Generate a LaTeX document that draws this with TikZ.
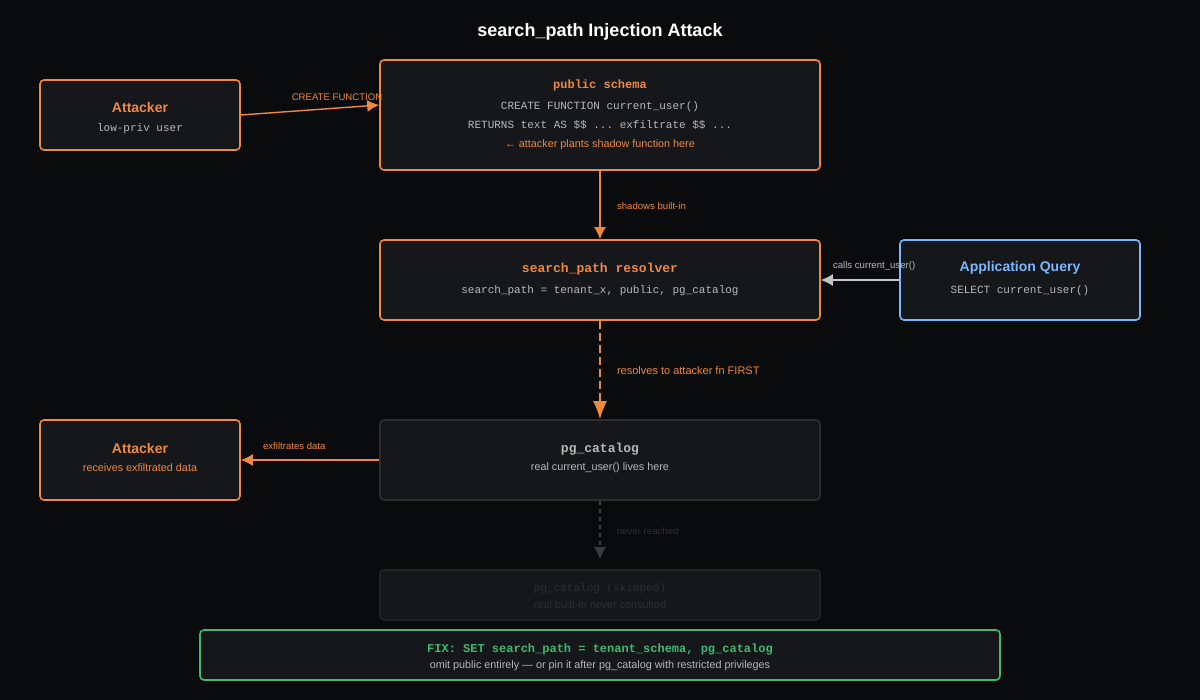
\documentclass[tikz,border=0pt]{standalone}
\usepackage{fontspec}
\setmainfont{Liberation Sans}
\setmonofont{Liberation Mono}
\usetikzlibrary{arrows.meta,calc}
\definecolor{bg}{HTML}{0A0B0D}
\definecolor{boxfill}{HTML}{15171B}
\definecolor{orng}{HTML}{F0883E}
\definecolor{blu}{HTML}{79B8FF}
\definecolor{grn}{HTML}{3FB970}
\definecolor{txt}{HTML}{B8B8B8}
\definecolor{dim}{HTML}{2A2D32}
\definecolor{dimline}{HTML}{3A3E44}
\definecolor{dimtxt}{HTML}{2C2F34}
\tikzset{
  box/.style={draw, fill=boxfill, rounded corners=2, line width=0.8pt, inner sep=0pt},
  ttl/.style={font=\fontsize{7}{8}\selectfont\bfseries},
  mono/.style={font=\ttfamily\fontsize{5.5}{6.5}\selectfont, text=txt},
  small/.style={font=\fontsize{5.4}{6.4}\selectfont},
  lbl/.style={font=\fontsize{4.8}{5.5}\selectfont, anchor=west},
  arr/.style={-{Latex[length=6pt,width=6pt]}, line width=0.7pt}
}
\begin{document}
\begin{tikzpicture}[x=0.5pt,y=-0.5pt]
\fill[bg] (0,0) rectangle (1200,700);
\node[font=\fontsize{9}{11}\selectfont\bfseries, text=white] (title) at (600,32) {search\_path Injection Attack};
% boxes
\node[box, draw=orng, minimum width=100pt, minimum height=35pt] (att) at (140,115) {};
\node[box, draw=orng, minimum width=220pt, minimum height=55pt] (pub) at (600,115) {};
\node[box, draw=orng, minimum width=220pt, minimum height=40pt] (res) at (600,280) {};
\node[box, draw=blu, minimum width=120pt, minimum height=40pt] (app) at (1020,280) {};
\node[box, draw=dim, minimum width=220pt, minimum height=40pt] (pg) at (600,460) {};
\node[box, draw=dim!70!bg, minimum width=220pt, minimum height=25pt] (skip) at (600,595) {};
\node[box, draw=orng, minimum width=100pt, minimum height=40pt] (recv) at (140,460) {};
\node[box, draw=grn, minimum width=400pt, minimum height=25pt] (fix) at (600,655) {};
% texts
\node[ttl, text=orng] at (140,107) {Attacker};
\node[mono] at (140,129) {low-priv user};
\node[ttl, font=\ttfamily\fontsize{6}{7}\selectfont\bfseries, text=orng] at (600,85) {public schema};
\node[mono] at (600,107) {CREATE FUNCTION current\_user()};
\node[mono] at (600,125) {RETURNS text AS \$\$ ... exfiltrate \$\$ ...};
\node[small, text=orng] at (600,145) {← attacker plants shadow function here};
\node[ttl, font=\ttfamily\fontsize{6.5}{7.5}\selectfont\bfseries, text=orng] at (600,269) {search\_path resolver};
\node[mono] at (600,291) {search\_path = tenant\_x, public, pg\_catalog};
\node[ttl, text=blu] at (1020,268) {Application Query};
\node[mono] at (1020,291) {SELECT current\_user()};
\node[ttl, font=\ttfamily\fontsize{6.5}{7.5}\selectfont\bfseries, text=txt] at (600,449) {pg\_catalog};
\node[small, text=txt] at (600,468) {real current\_user() lives here};
\node[ttl, text=orng] at (140,448) {Attacker};
\node[small, text=orng] at (140,468) {receives exfiltrated data};
\node[mono, text=dimtxt] at (600,589) {pg\_catalog (skipped)};
\node[small, text=dimtxt] at (600,605) {real built-in never consulted};
\node[ttl, font=\ttfamily\fontsize{6}{7}\selectfont\bfseries, text=grn] at (600,649) {FIX: SET search\_path = tenant\_schema, pg\_catalog};
\node[small, text=txt] at (600,666) {omit public entirely — or pin it after pg\_catalog with restricted privileges};
% connectors
\draw[arr, orng] (att.east) -- ($(pub.west)+(0,-10)$);
\node[lbl, anchor=center, text=orng] at (337,97) {CREATE FUNCTION};
\draw[arr, orng] (pub.south) -- (res.north);
\node[lbl, text=orng] at (610,206) {shadows built-in};
\draw[arr, txt!80] (app.west) -- (res.east);
\node[lbl, text=txt] at (826,266) {calls current\_user()};
\draw[-{Latex[length=9pt,width=7pt]}, orng, line width=0.8pt, dash pattern=on 4pt off 2pt] (res.south) -- (pg.north);
\node[lbl, font=\fontsize{5.5}{6}\selectfont, text=orng] at (610,371) {resolves to attacker fn FIRST};
\draw[arr, orng] (pg.west) -- (recv.east);
\node[lbl, text=orng] at (256,446) {exfiltrates data};
\draw[arr, dimline, dash pattern=on 2pt off 2pt, shorten >=5pt] (pg.south) -- (skip.north);
\node[lbl, text=dimtxt] at (610,531) {never reached};
\end{tikzpicture}
\end{document}
